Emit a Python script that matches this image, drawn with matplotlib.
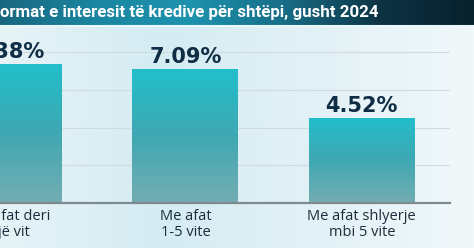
import numpy as np
import matplotlib
matplotlib.use('Agg')
import matplotlib.pyplot as plt
from matplotlib.colors import LinearSegmentedColormap

# data
categories = ["Me afat deri\nnjë vit", "Me afat\n1-5 vite", "Me afat shlyerje\nmbi 5 vite"]
rates = [7.38, 7.09, 4.52]
title = "Normat e interesit të kredive për shtëpi, gusht 2024"

W, H = 474, 248
fig = plt.figure(figsize=(W / 100, H / 100), dpi=100)

# background
bg = fig.add_axes([0, 0, 1, 1])
bg_cmap = LinearSegmentedColormap.from_list("bg", ["#e6f3f7", "#d5ecf3", "#e2f1f6", "#f1f8fa"])
grad = np.linspace(0, 1, 256).reshape(1, -1)
bg.imshow(grad, aspect='auto', cmap=bg_cmap, extent=[0, 1, 0, 1])
bg.set_xlim(0, 1)
bg.set_ylim(0, 1)
bg.axis('off')

# title banner
banner = fig.add_axes([0, 1 - 25 / H, 1, 25 / H])
ban_cmap = LinearSegmentedColormap.from_list(
    "ban", ["#18677f", "#1b86a1", "#1e93ae", "#176d86", "#0d3445", "#08202c"])
banner.imshow(grad, aspect='auto', cmap=ban_cmap, extent=[0, 1, 0, 1])
banner.set_xlim(0, 1)
banner.set_ylim(0, 1)
banner.axis('off')
fig.add_artist(plt.Line2D([0, 1], [1 - 26 / H, 1 - 26 / H], color='#e9f8fb', lw=1.5))
fig.text(379 / W, 1 - 12.5 / H, title, ha='right', va='center', color='white',
         fontsize=12.2, fontweight='bold', family='Roboto')

# chart
ax = fig.add_axes([0, 45 / H, 450 / W, (203 - 41) / H])
ax.patch.set_alpha(0)
x = np.arange(len(rates))
bars = ax.bar(x, rates, width=0.6, color='none', zorder=2)

bar_cmap = LinearSegmentedColormap.from_list("bar", ["#74adb3", "#3fa8b2", "#21bfcb"])
vgrad = np.linspace(0, 1, 256).reshape(-1, 1)
for b in bars:
    x0, w, h = b.get_x(), b.get_width(), b.get_height()
    im = ax.imshow(vgrad, aspect='auto', cmap=bar_cmap, origin='lower',
                   extent=[x0, x0 + w, 0, h], zorder=2)
    im.set_clip_path(b)

for xi, v in zip(x, rates):
    ax.text(xi, v + 0.12, f"{v:.2f}%", ha='center', va='bottom', fontsize=15,
            fontweight='bold', family='DejaVu Sans', color='#0f2d44', zorder=3)

ax.set_xlim(-0.051, 2.5)
ax.set_ylim(0, 8.6)
ax.set_yticks([2, 4, 6, 8])
ax.yaxis.grid(True, color='#cfdbe1', linewidth=0.8, zorder=0)
ax.set_axisbelow(True)
for s in ['top', 'right', 'left']:
    ax.spines[s].set_visible(False)
ax.spines['bottom'].set_color('#7d8a90')
ax.spines['bottom'].set_linewidth(1.6)
ax.tick_params(axis='both', length=0)
ax.set_yticklabels([])
ax.set_xticks(x)
ax.set_xticklabels(categories, fontsize=10.5, color='#1c2c3a', linespacing=1.15,
                   family='Open Sans')
ax.tick_params(axis='x', pad=4)

fig.savefig("out.png", dpi=100)
